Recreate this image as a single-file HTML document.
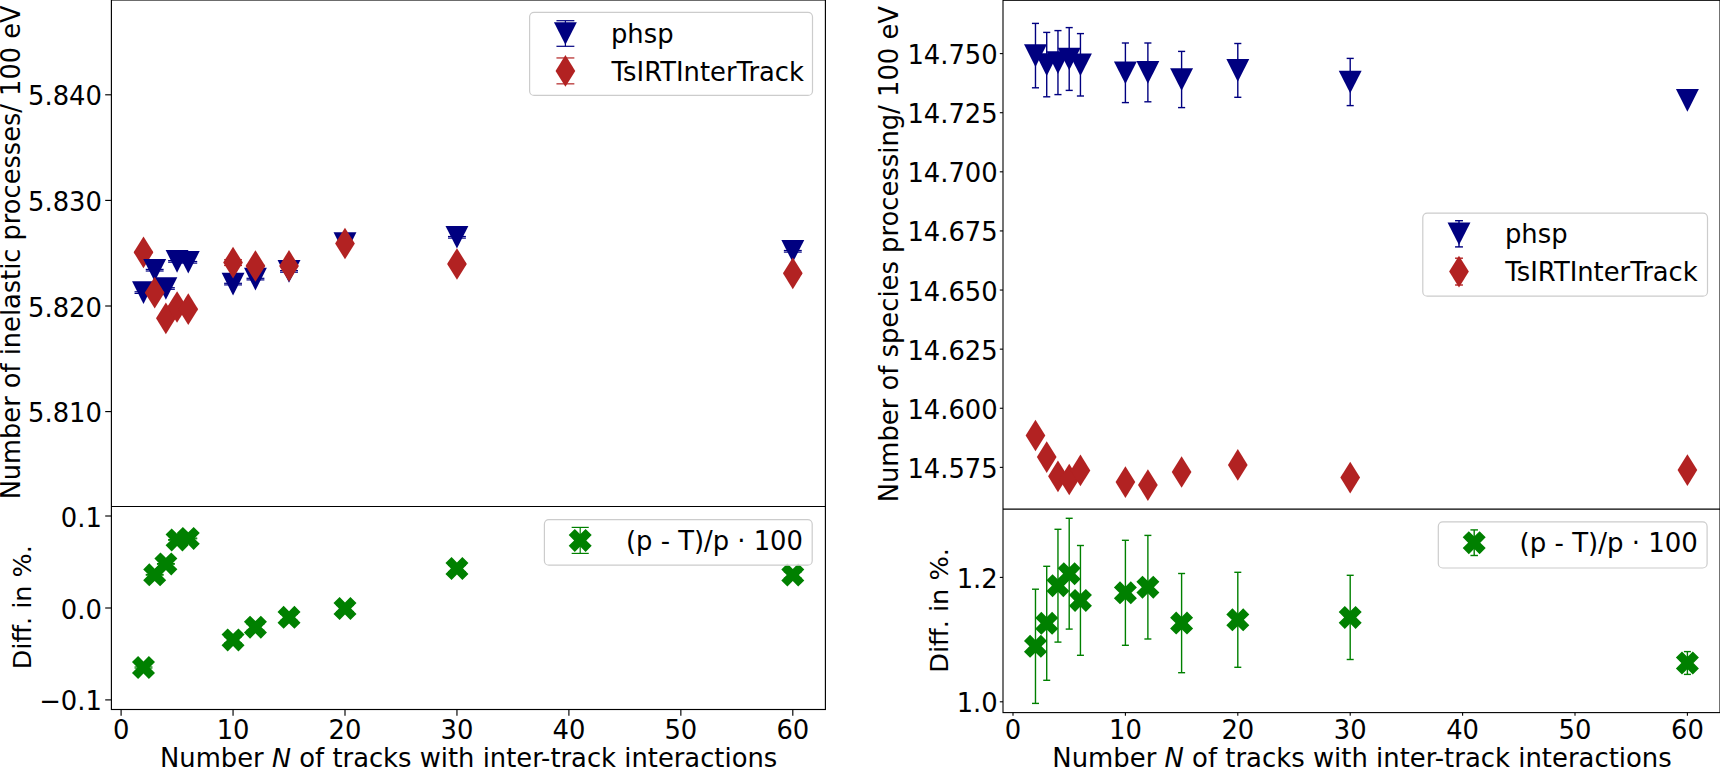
<!DOCTYPE html><html><head><meta charset="utf-8"><title>Figure</title><style>html,body{margin:0;padding:0;background:#fff;width:1720px;height:767px;overflow:hidden}svg{display:block}text{font-family:"DejaVu Sans", "Liberation Sans", sans-serif;font-size:25.8px;fill:#000}</style></head><body>
<svg width="1720" height="767" viewBox="0 0 1720 767">
<rect width="1720" height="767" fill="#fff"/>
<line x1="143.49" y1="291.8" x2="143.49" y2="293.4" stroke="#000080" stroke-width="1.2"/><line x1="134.54" y1="291.8" x2="152.44" y2="291.8" stroke="#000080" stroke-width="1.2"/><line x1="134.54" y1="293.4" x2="152.44" y2="293.4" stroke="#000080" stroke-width="1.2"/>
<polygon points="132.04,281.3 154.94,281.3 143.49,303.9" fill="#000080"/>
<line x1="143.49" y1="251.5" x2="143.49" y2="253.1" stroke="#b22222" stroke-width="1.2"/><line x1="134.54" y1="251.5" x2="152.44" y2="251.5" stroke="#b22222" stroke-width="1.2"/><line x1="134.54" y1="253.1" x2="152.44" y2="253.1" stroke="#b22222" stroke-width="1.2"/>
<polygon points="143.49,236.45 153.34,252.3 143.49,268.15 133.64,252.3" fill="#b22222"/>
<line x1="165.88" y1="287.7" x2="165.88" y2="289.3" stroke="#000080" stroke-width="1.2"/><line x1="156.93" y1="287.7" x2="174.83" y2="287.7" stroke="#000080" stroke-width="1.2"/><line x1="156.93" y1="289.3" x2="174.83" y2="289.3" stroke="#000080" stroke-width="1.2"/>
<polygon points="154.43,277.2 177.33,277.2 165.88,299.8" fill="#000080"/>
<line x1="165.88" y1="317.5" x2="165.88" y2="319.1" stroke="#b22222" stroke-width="1.2"/><line x1="156.93" y1="317.5" x2="174.83" y2="317.5" stroke="#b22222" stroke-width="1.2"/><line x1="156.93" y1="319.1" x2="174.83" y2="319.1" stroke="#b22222" stroke-width="1.2"/>
<polygon points="165.88,302.45 175.73,318.3 165.88,334.15 156.03,318.3" fill="#b22222"/>
<line x1="154.69" y1="269.4" x2="154.69" y2="271" stroke="#000080" stroke-width="1.2"/><line x1="145.74" y1="269.4" x2="163.63" y2="269.4" stroke="#000080" stroke-width="1.2"/><line x1="145.74" y1="271" x2="163.63" y2="271" stroke="#000080" stroke-width="1.2"/>
<polygon points="143.24,258.9 166.13,258.9 154.69,281.5" fill="#000080"/>
<line x1="154.69" y1="291.9" x2="154.69" y2="293.5" stroke="#b22222" stroke-width="1.2"/><line x1="145.74" y1="291.9" x2="163.63" y2="291.9" stroke="#b22222" stroke-width="1.2"/><line x1="145.74" y1="293.5" x2="163.63" y2="293.5" stroke="#b22222" stroke-width="1.2"/>
<polygon points="154.69,276.85 164.53,292.7 154.69,308.55 144.84,292.7" fill="#b22222"/>
<line x1="177.07" y1="260.6" x2="177.07" y2="262.2" stroke="#000080" stroke-width="1.2"/><line x1="168.12" y1="260.6" x2="186.02" y2="260.6" stroke="#000080" stroke-width="1.2"/><line x1="168.12" y1="262.2" x2="186.02" y2="262.2" stroke="#000080" stroke-width="1.2"/>
<polygon points="165.62,250.1 188.52,250.1 177.07,272.7" fill="#000080"/>
<line x1="177.07" y1="306.2" x2="177.07" y2="307.8" stroke="#b22222" stroke-width="1.2"/><line x1="168.12" y1="306.2" x2="186.02" y2="306.2" stroke="#b22222" stroke-width="1.2"/><line x1="168.12" y1="307.8" x2="186.02" y2="307.8" stroke="#b22222" stroke-width="1.2"/>
<polygon points="177.07,291.15 186.92,307 177.07,322.85 167.22,307" fill="#b22222"/>
<line x1="188.27" y1="261.5" x2="188.27" y2="263.1" stroke="#000080" stroke-width="1.2"/><line x1="179.32" y1="261.5" x2="197.22" y2="261.5" stroke="#000080" stroke-width="1.2"/><line x1="179.32" y1="263.1" x2="197.22" y2="263.1" stroke="#000080" stroke-width="1.2"/>
<polygon points="176.82,251 199.72,251 188.27,273.6" fill="#000080"/>
<line x1="188.27" y1="308.4" x2="188.27" y2="310" stroke="#b22222" stroke-width="1.2"/><line x1="179.32" y1="308.4" x2="197.22" y2="308.4" stroke="#b22222" stroke-width="1.2"/><line x1="179.32" y1="310" x2="197.22" y2="310" stroke="#b22222" stroke-width="1.2"/>
<polygon points="188.27,293.35 198.12,309.2 188.27,325.05 178.42,309.2" fill="#b22222"/>
<line x1="233.05" y1="283.3" x2="233.05" y2="284.9" stroke="#000080" stroke-width="1.2"/><line x1="224.1" y1="283.3" x2="242" y2="283.3" stroke="#000080" stroke-width="1.2"/><line x1="224.1" y1="284.9" x2="242" y2="284.9" stroke="#000080" stroke-width="1.2"/>
<polygon points="221.6,272.8 244.5,272.8 233.05,295.4" fill="#000080"/>
<line x1="233.05" y1="259.7" x2="233.05" y2="265.5" stroke="#b22222" stroke-width="1.2"/><line x1="224.1" y1="259.7" x2="242" y2="259.7" stroke="#b22222" stroke-width="1.2"/><line x1="224.1" y1="265.5" x2="242" y2="265.5" stroke="#b22222" stroke-width="1.2"/>
<polygon points="233.05,246.75 242.9,262.6 233.05,278.45 223.2,262.6" fill="#b22222"/>
<line x1="255.44" y1="278.3" x2="255.44" y2="279.9" stroke="#000080" stroke-width="1.2"/><line x1="246.49" y1="278.3" x2="264.39" y2="278.3" stroke="#000080" stroke-width="1.2"/><line x1="246.49" y1="279.9" x2="264.39" y2="279.9" stroke="#000080" stroke-width="1.2"/>
<polygon points="243.99,267.8 266.89,267.8 255.44,290.4" fill="#000080"/>
<line x1="255.44" y1="265.2" x2="255.44" y2="266.8" stroke="#b22222" stroke-width="1.2"/><line x1="246.49" y1="265.2" x2="264.39" y2="265.2" stroke="#b22222" stroke-width="1.2"/><line x1="246.49" y1="266.8" x2="264.39" y2="266.8" stroke="#b22222" stroke-width="1.2"/>
<polygon points="255.44,250.15 265.29,266 255.44,281.85 245.59,266" fill="#b22222"/>
<line x1="289.02" y1="270.6" x2="289.02" y2="272.2" stroke="#000080" stroke-width="1.2"/><line x1="280.07" y1="270.6" x2="297.97" y2="270.6" stroke="#000080" stroke-width="1.2"/><line x1="280.07" y1="272.2" x2="297.97" y2="272.2" stroke="#000080" stroke-width="1.2"/>
<polygon points="277.57,260.1 300.47,260.1 289.02,282.7" fill="#000080"/>
<line x1="289.02" y1="265.1" x2="289.02" y2="266.7" stroke="#b22222" stroke-width="1.2"/><line x1="280.07" y1="265.1" x2="297.97" y2="265.1" stroke="#b22222" stroke-width="1.2"/><line x1="280.07" y1="266.7" x2="297.97" y2="266.7" stroke="#b22222" stroke-width="1.2"/>
<polygon points="289.02,250.05 298.88,265.9 289.02,281.75 279.17,265.9" fill="#b22222"/>
<line x1="345" y1="242.8" x2="345" y2="244.4" stroke="#000080" stroke-width="1.2"/><line x1="336.05" y1="242.8" x2="353.95" y2="242.8" stroke="#000080" stroke-width="1.2"/><line x1="336.05" y1="244.4" x2="353.95" y2="244.4" stroke="#000080" stroke-width="1.2"/>
<polygon points="333.55,232.3 356.45,232.3 345,254.9" fill="#000080"/>
<line x1="345" y1="242.7" x2="345" y2="244.3" stroke="#b22222" stroke-width="1.2"/><line x1="336.05" y1="242.7" x2="353.95" y2="242.7" stroke="#b22222" stroke-width="1.2"/><line x1="336.05" y1="244.3" x2="353.95" y2="244.3" stroke="#b22222" stroke-width="1.2"/>
<polygon points="345,227.65 354.85,243.5 345,259.35 335.15,243.5" fill="#b22222"/>
<line x1="456.95" y1="236.5" x2="456.95" y2="238.1" stroke="#000080" stroke-width="1.2"/><line x1="448" y1="236.5" x2="465.9" y2="236.5" stroke="#000080" stroke-width="1.2"/><line x1="448" y1="238.1" x2="465.9" y2="238.1" stroke="#000080" stroke-width="1.2"/>
<polygon points="445.5,226 468.4,226 456.95,248.6" fill="#000080"/>
<line x1="456.95" y1="263.2" x2="456.95" y2="264.8" stroke="#b22222" stroke-width="1.2"/><line x1="448" y1="263.2" x2="465.9" y2="263.2" stroke="#b22222" stroke-width="1.2"/><line x1="448" y1="264.8" x2="465.9" y2="264.8" stroke="#b22222" stroke-width="1.2"/>
<polygon points="456.95,248.15 466.8,264 456.95,279.85 447.1,264" fill="#b22222"/>
<line x1="792.8" y1="250.5" x2="792.8" y2="252.1" stroke="#000080" stroke-width="1.2"/><line x1="783.85" y1="250.5" x2="801.75" y2="250.5" stroke="#000080" stroke-width="1.2"/><line x1="783.85" y1="252.1" x2="801.75" y2="252.1" stroke="#000080" stroke-width="1.2"/>
<polygon points="781.35,240 804.25,240 792.8,262.6" fill="#000080"/>
<line x1="792.8" y1="272.5" x2="792.8" y2="274.1" stroke="#b22222" stroke-width="1.2"/><line x1="783.85" y1="272.5" x2="801.75" y2="272.5" stroke="#b22222" stroke-width="1.2"/><line x1="783.85" y1="274.1" x2="801.75" y2="274.1" stroke="#b22222" stroke-width="1.2"/>
<polygon points="792.8,257.45 802.65,273.3 792.8,289.15 782.95,273.3" fill="#b22222"/>
<line x1="143.49" y1="666.9" x2="143.49" y2="668.1" stroke="#008000" stroke-width="1.1"/><line x1="134.54" y1="666.9" x2="152.44" y2="666.9" stroke="#008000" stroke-width="1.1"/><line x1="134.54" y1="668.1" x2="152.44" y2="668.1" stroke="#008000" stroke-width="1.1"/>
<polygon points="149.59,667.5 154.99,672.9 148.89,679 143.49,673.6 138.09,679 131.99,672.9 137.39,667.5 131.99,662.1 138.09,656 143.49,661.4 148.89,656 154.99,662.1" fill="#008000"/>
<line x1="154.69" y1="574.4" x2="154.69" y2="575.2" stroke="#008000" stroke-width="1.1"/><line x1="145.74" y1="574.4" x2="163.63" y2="574.4" stroke="#008000" stroke-width="1.1"/><line x1="145.74" y1="575.2" x2="163.63" y2="575.2" stroke="#008000" stroke-width="1.1"/>
<polygon points="160.78,574.8 166.19,580.2 160.09,586.3 154.69,580.9 149.28,586.3 143.19,580.2 148.59,574.8 143.19,569.4 149.28,563.3 154.69,568.7 160.09,563.3 166.19,569.4" fill="#008000"/>
<line x1="165.88" y1="563.5" x2="165.88" y2="564.3" stroke="#008000" stroke-width="1.1"/><line x1="156.93" y1="563.5" x2="174.83" y2="563.5" stroke="#008000" stroke-width="1.1"/><line x1="156.93" y1="564.3" x2="174.83" y2="564.3" stroke="#008000" stroke-width="1.1"/>
<polygon points="171.98,563.9 177.38,569.3 171.28,575.4 165.88,570 160.48,575.4 154.38,569.3 159.78,563.9 154.38,558.5 160.48,552.4 165.88,557.8 171.28,552.4 177.38,558.5" fill="#008000"/>
<line x1="177.07" y1="539.5" x2="177.07" y2="540.3" stroke="#008000" stroke-width="1.1"/><line x1="168.12" y1="539.5" x2="186.02" y2="539.5" stroke="#008000" stroke-width="1.1"/><line x1="168.12" y1="540.3" x2="186.02" y2="540.3" stroke="#008000" stroke-width="1.1"/>
<polygon points="183.17,539.9 188.57,545.3 182.47,551.4 177.07,546 171.67,551.4 165.57,545.3 170.97,539.9 165.57,534.5 171.67,528.4 177.07,533.8 182.47,528.4 188.57,534.5" fill="#008000"/>
<line x1="188.27" y1="538" x2="188.27" y2="538.8" stroke="#008000" stroke-width="1.1"/><line x1="179.32" y1="538" x2="197.22" y2="538" stroke="#008000" stroke-width="1.1"/><line x1="179.32" y1="538.8" x2="197.22" y2="538.8" stroke="#008000" stroke-width="1.1"/>
<polygon points="194.37,538.4 199.77,543.8 193.67,549.9 188.27,544.5 182.87,549.9 176.77,543.8 182.17,538.4 176.77,533 182.87,526.9 188.27,532.3 193.67,526.9 199.77,533" fill="#008000"/>
<line x1="233.05" y1="636.9" x2="233.05" y2="642.9" stroke="#008000" stroke-width="1.1"/><line x1="224.1" y1="636.9" x2="242" y2="636.9" stroke="#008000" stroke-width="1.1"/><line x1="224.1" y1="642.9" x2="242" y2="642.9" stroke="#008000" stroke-width="1.1"/>
<polygon points="239.15,639.9 244.55,645.3 238.45,651.4 233.05,646 227.65,651.4 221.55,645.3 226.95,639.9 221.55,634.5 227.65,628.4 233.05,633.8 238.45,628.4 244.55,634.5" fill="#008000"/>
<line x1="255.44" y1="624.2" x2="255.44" y2="630.2" stroke="#008000" stroke-width="1.1"/><line x1="246.49" y1="624.2" x2="264.39" y2="624.2" stroke="#008000" stroke-width="1.1"/><line x1="246.49" y1="630.2" x2="264.39" y2="630.2" stroke="#008000" stroke-width="1.1"/>
<polygon points="261.54,627.2 266.94,632.6 260.84,638.7 255.44,633.3 250.04,638.7 243.94,632.6 249.34,627.2 243.94,621.8 250.04,615.7 255.44,621.1 260.84,615.7 266.94,621.8" fill="#008000"/>
<line x1="289.02" y1="614.3" x2="289.02" y2="620.3" stroke="#008000" stroke-width="1.1"/><line x1="280.07" y1="614.3" x2="297.97" y2="614.3" stroke="#008000" stroke-width="1.1"/><line x1="280.07" y1="620.3" x2="297.97" y2="620.3" stroke="#008000" stroke-width="1.1"/>
<polygon points="295.12,617.3 300.52,622.7 294.42,628.8 289.02,623.4 283.62,628.8 277.52,622.7 282.92,617.3 277.52,611.9 283.62,605.8 289.02,611.2 294.42,605.8 300.52,611.9" fill="#008000"/>
<line x1="345" y1="605.5" x2="345" y2="611.5" stroke="#008000" stroke-width="1.1"/><line x1="336.05" y1="605.5" x2="353.95" y2="605.5" stroke="#008000" stroke-width="1.1"/><line x1="336.05" y1="611.5" x2="353.95" y2="611.5" stroke="#008000" stroke-width="1.1"/>
<polygon points="351.1,608.5 356.5,613.9 350.4,620 345,614.6 339.6,620 333.5,613.9 338.9,608.5 333.5,603.1 339.6,597 345,602.4 350.4,597 356.5,603.1" fill="#008000"/>
<line x1="456.95" y1="565.5" x2="456.95" y2="571.5" stroke="#008000" stroke-width="1.1"/><line x1="448" y1="565.5" x2="465.9" y2="565.5" stroke="#008000" stroke-width="1.1"/><line x1="448" y1="571.5" x2="465.9" y2="571.5" stroke="#008000" stroke-width="1.1"/>
<polygon points="463.05,568.5 468.45,573.9 462.35,580 456.95,574.6 451.55,580 445.45,573.9 450.85,568.5 445.45,563.1 451.55,557 456.95,562.4 462.35,557 468.45,563.1" fill="#008000"/>
<line x1="792.8" y1="572" x2="792.8" y2="578" stroke="#008000" stroke-width="1.1"/><line x1="783.85" y1="572" x2="801.75" y2="572" stroke="#008000" stroke-width="1.1"/><line x1="783.85" y1="578" x2="801.75" y2="578" stroke="#008000" stroke-width="1.1"/>
<polygon points="798.9,575 804.3,580.4 798.2,586.5 792.8,581.1 787.4,586.5 781.3,580.4 786.7,575 781.3,569.6 787.4,563.5 792.8,568.9 798.2,563.5 804.3,569.6" fill="#008000"/>
<line x1="1035.48" y1="23.4" x2="1035.48" y2="87.8" stroke="#000080" stroke-width="1.4"/><line x1="1031.93" y1="23.4" x2="1039.03" y2="23.4" stroke="#000080" stroke-width="1.4"/><line x1="1031.93" y1="87.8" x2="1039.03" y2="87.8" stroke="#000080" stroke-width="1.4"/>
<polygon points="1024.03,44.3 1046.93,44.3 1035.48,66.9" fill="#000080"/>
<line x1="1046.72" y1="32.4" x2="1046.72" y2="96.8" stroke="#000080" stroke-width="1.4"/><line x1="1043.17" y1="32.4" x2="1050.27" y2="32.4" stroke="#000080" stroke-width="1.4"/><line x1="1043.17" y1="96.8" x2="1050.27" y2="96.8" stroke="#000080" stroke-width="1.4"/>
<polygon points="1035.27,53.3 1058.17,53.3 1046.72,75.9" fill="#000080"/>
<line x1="1057.96" y1="30.6" x2="1057.96" y2="94.6" stroke="#000080" stroke-width="1.4"/><line x1="1054.41" y1="30.6" x2="1061.51" y2="30.6" stroke="#000080" stroke-width="1.4"/><line x1="1054.41" y1="94.6" x2="1061.51" y2="94.6" stroke="#000080" stroke-width="1.4"/>
<polygon points="1046.51,51.3 1069.41,51.3 1057.96,73.9" fill="#000080"/>
<line x1="1069.2" y1="27.6" x2="1069.2" y2="90.4" stroke="#000080" stroke-width="1.4"/><line x1="1065.65" y1="27.6" x2="1072.75" y2="27.6" stroke="#000080" stroke-width="1.4"/><line x1="1065.65" y1="90.4" x2="1072.75" y2="90.4" stroke="#000080" stroke-width="1.4"/>
<polygon points="1057.75,47.7 1080.65,47.7 1069.2,70.3" fill="#000080"/>
<line x1="1080.44" y1="33.6" x2="1080.44" y2="96" stroke="#000080" stroke-width="1.4"/><line x1="1076.89" y1="33.6" x2="1083.99" y2="33.6" stroke="#000080" stroke-width="1.4"/><line x1="1076.89" y1="96" x2="1083.99" y2="96" stroke="#000080" stroke-width="1.4"/>
<polygon points="1068.99,53.5 1091.89,53.5 1080.44,76.1" fill="#000080"/>
<line x1="1125.4" y1="43" x2="1125.4" y2="102.6" stroke="#000080" stroke-width="1.4"/><line x1="1121.85" y1="43" x2="1128.95" y2="43" stroke="#000080" stroke-width="1.4"/><line x1="1121.85" y1="102.6" x2="1128.95" y2="102.6" stroke="#000080" stroke-width="1.4"/>
<polygon points="1113.95,61.5 1136.85,61.5 1125.4,84.1" fill="#000080"/>
<line x1="1147.88" y1="43" x2="1147.88" y2="101.8" stroke="#000080" stroke-width="1.4"/><line x1="1144.33" y1="43" x2="1151.43" y2="43" stroke="#000080" stroke-width="1.4"/><line x1="1144.33" y1="101.8" x2="1151.43" y2="101.8" stroke="#000080" stroke-width="1.4"/>
<polygon points="1136.43,61.1 1159.33,61.1 1147.88,83.7" fill="#000080"/>
<line x1="1181.6" y1="51.4" x2="1181.6" y2="107.6" stroke="#000080" stroke-width="1.4"/><line x1="1178.05" y1="51.4" x2="1185.15" y2="51.4" stroke="#000080" stroke-width="1.4"/><line x1="1178.05" y1="107.6" x2="1185.15" y2="107.6" stroke="#000080" stroke-width="1.4"/>
<polygon points="1170.15,68.2 1193.05,68.2 1181.6,90.8" fill="#000080"/>
<line x1="1237.8" y1="43.5" x2="1237.8" y2="97.3" stroke="#000080" stroke-width="1.4"/><line x1="1234.25" y1="43.5" x2="1241.35" y2="43.5" stroke="#000080" stroke-width="1.4"/><line x1="1234.25" y1="97.3" x2="1241.35" y2="97.3" stroke="#000080" stroke-width="1.4"/>
<polygon points="1226.35,59.1 1249.25,59.1 1237.8,81.7" fill="#000080"/>
<line x1="1350.2" y1="58.4" x2="1350.2" y2="105.6" stroke="#000080" stroke-width="1.4"/><line x1="1346.65" y1="58.4" x2="1353.75" y2="58.4" stroke="#000080" stroke-width="1.4"/><line x1="1346.65" y1="105.6" x2="1353.75" y2="105.6" stroke="#000080" stroke-width="1.4"/>
<polygon points="1338.75,70.7 1361.65,70.7 1350.2,93.3" fill="#000080"/>
<polygon points="1675.95,89.1 1698.85,89.1 1687.4,111.7" fill="#000080"/>
<polygon points="1035.48,419.65 1045.33,435.5 1035.48,451.35 1025.63,435.5" fill="#b22222"/>
<polygon points="1046.72,441.25 1056.57,457.1 1046.72,472.95 1036.87,457.1" fill="#b22222"/>
<polygon points="1057.96,460.45 1067.81,476.3 1057.96,492.15 1048.11,476.3" fill="#b22222"/>
<polygon points="1069.2,463.65 1079.05,479.5 1069.2,495.35 1059.35,479.5" fill="#b22222"/>
<polygon points="1080.44,454.55 1090.29,470.4 1080.44,486.25 1070.59,470.4" fill="#b22222"/>
<polygon points="1125.4,466.25 1135.25,482.1 1125.4,497.95 1115.55,482.1" fill="#b22222"/>
<polygon points="1147.88,469.25 1157.73,485.1 1147.88,500.95 1138.03,485.1" fill="#b22222"/>
<polygon points="1181.6,456.15 1191.45,472 1181.6,487.85 1171.75,472" fill="#b22222"/>
<polygon points="1237.8,449.05 1247.65,464.9 1237.8,480.75 1227.95,464.9" fill="#b22222"/>
<polygon points="1350.2,461.75 1360.05,477.6 1350.2,493.45 1340.35,477.6" fill="#b22222"/>
<polygon points="1687.4,454.25 1697.25,470.1 1687.4,485.95 1677.55,470.1" fill="#b22222"/>
<line x1="1035.48" y1="589.2" x2="1035.48" y2="703.4" stroke="#008000" stroke-width="1.4"/><line x1="1031.98" y1="589.2" x2="1038.98" y2="589.2" stroke="#008000" stroke-width="1.4"/><line x1="1031.98" y1="703.4" x2="1038.98" y2="703.4" stroke="#008000" stroke-width="1.4"/>
<polygon points="1041.58,646.3 1046.98,651.7 1040.88,657.8 1035.48,652.4 1030.08,657.8 1023.98,651.7 1029.38,646.3 1023.98,640.9 1030.08,634.8 1035.48,640.2 1040.88,634.8 1046.98,640.9" fill="#008000"/>
<line x1="1046.72" y1="566.3" x2="1046.72" y2="680.3" stroke="#008000" stroke-width="1.4"/><line x1="1043.22" y1="566.3" x2="1050.22" y2="566.3" stroke="#008000" stroke-width="1.4"/><line x1="1043.22" y1="680.3" x2="1050.22" y2="680.3" stroke="#008000" stroke-width="1.4"/>
<polygon points="1052.82,623.3 1058.22,628.7 1052.12,634.8 1046.72,629.4 1041.32,634.8 1035.22,628.7 1040.62,623.3 1035.22,617.9 1041.32,611.8 1046.72,617.2 1052.12,611.8 1058.22,617.9" fill="#008000"/>
<line x1="1057.96" y1="529.3" x2="1057.96" y2="642.1" stroke="#008000" stroke-width="1.4"/><line x1="1054.46" y1="529.3" x2="1061.46" y2="529.3" stroke="#008000" stroke-width="1.4"/><line x1="1054.46" y1="642.1" x2="1061.46" y2="642.1" stroke="#008000" stroke-width="1.4"/>
<polygon points="1064.06,585.7 1069.46,591.1 1063.36,597.2 1057.96,591.8 1052.56,597.2 1046.46,591.1 1051.86,585.7 1046.46,580.3 1052.56,574.2 1057.96,579.6 1063.36,574.2 1069.46,580.3" fill="#008000"/>
<line x1="1069.2" y1="518.3" x2="1069.2" y2="629.1" stroke="#008000" stroke-width="1.4"/><line x1="1065.7" y1="518.3" x2="1072.7" y2="518.3" stroke="#008000" stroke-width="1.4"/><line x1="1065.7" y1="629.1" x2="1072.7" y2="629.1" stroke="#008000" stroke-width="1.4"/>
<polygon points="1075.3,573.7 1080.7,579.1 1074.6,585.2 1069.2,579.8 1063.8,585.2 1057.7,579.1 1063.1,573.7 1057.7,568.3 1063.8,562.2 1069.2,567.6 1074.6,562.2 1080.7,568.3" fill="#008000"/>
<line x1="1080.44" y1="545.5" x2="1080.44" y2="655.3" stroke="#008000" stroke-width="1.4"/><line x1="1076.94" y1="545.5" x2="1083.94" y2="545.5" stroke="#008000" stroke-width="1.4"/><line x1="1076.94" y1="655.3" x2="1083.94" y2="655.3" stroke="#008000" stroke-width="1.4"/>
<polygon points="1086.54,600.4 1091.94,605.8 1085.84,611.9 1080.44,606.5 1075.04,611.9 1068.94,605.8 1074.34,600.4 1068.94,595 1075.04,588.9 1080.44,594.3 1085.84,588.9 1091.94,595" fill="#008000"/>
<line x1="1125.4" y1="540.3" x2="1125.4" y2="645.3" stroke="#008000" stroke-width="1.4"/><line x1="1121.9" y1="540.3" x2="1128.9" y2="540.3" stroke="#008000" stroke-width="1.4"/><line x1="1121.9" y1="645.3" x2="1128.9" y2="645.3" stroke="#008000" stroke-width="1.4"/>
<polygon points="1131.5,592.8 1136.9,598.2 1130.8,604.3 1125.4,598.9 1120,604.3 1113.9,598.2 1119.3,592.8 1113.9,587.4 1120,581.3 1125.4,586.7 1130.8,581.3 1136.9,587.4" fill="#008000"/>
<line x1="1147.88" y1="535.4" x2="1147.88" y2="639" stroke="#008000" stroke-width="1.4"/><line x1="1144.38" y1="535.4" x2="1151.38" y2="535.4" stroke="#008000" stroke-width="1.4"/><line x1="1144.38" y1="639" x2="1151.38" y2="639" stroke="#008000" stroke-width="1.4"/>
<polygon points="1153.98,587.2 1159.38,592.6 1153.28,598.7 1147.88,593.3 1142.48,598.7 1136.38,592.6 1141.78,587.2 1136.38,581.8 1142.48,575.7 1147.88,581.1 1153.28,575.7 1159.38,581.8" fill="#008000"/>
<line x1="1181.6" y1="573.5" x2="1181.6" y2="672.7" stroke="#008000" stroke-width="1.4"/><line x1="1178.1" y1="573.5" x2="1185.1" y2="573.5" stroke="#008000" stroke-width="1.4"/><line x1="1178.1" y1="672.7" x2="1185.1" y2="672.7" stroke="#008000" stroke-width="1.4"/>
<polygon points="1187.7,623.1 1193.1,628.5 1187,634.6 1181.6,629.2 1176.2,634.6 1170.1,628.5 1175.5,623.1 1170.1,617.7 1176.2,611.6 1181.6,617 1187,611.6 1193.1,617.7" fill="#008000"/>
<line x1="1237.8" y1="572.3" x2="1237.8" y2="667.3" stroke="#008000" stroke-width="1.4"/><line x1="1234.3" y1="572.3" x2="1241.3" y2="572.3" stroke="#008000" stroke-width="1.4"/><line x1="1234.3" y1="667.3" x2="1241.3" y2="667.3" stroke="#008000" stroke-width="1.4"/>
<polygon points="1243.9,619.8 1249.3,625.2 1243.2,631.3 1237.8,625.9 1232.4,631.3 1226.3,625.2 1231.7,619.8 1226.3,614.4 1232.4,608.3 1237.8,613.7 1243.2,608.3 1249.3,614.4" fill="#008000"/>
<line x1="1350.2" y1="575.3" x2="1350.2" y2="659.5" stroke="#008000" stroke-width="1.4"/><line x1="1346.7" y1="575.3" x2="1353.7" y2="575.3" stroke="#008000" stroke-width="1.4"/><line x1="1346.7" y1="659.5" x2="1353.7" y2="659.5" stroke="#008000" stroke-width="1.4"/>
<polygon points="1356.3,617.4 1361.7,622.8 1355.6,628.9 1350.2,623.5 1344.8,628.9 1338.7,622.8 1344.1,617.4 1338.7,612 1344.8,605.9 1350.2,611.3 1355.6,605.9 1361.7,612" fill="#008000"/>
<line x1="1687.4" y1="651.6" x2="1687.4" y2="674.4" stroke="#008000" stroke-width="1.4"/><line x1="1683.9" y1="651.6" x2="1690.9" y2="651.6" stroke="#008000" stroke-width="1.4"/><line x1="1683.9" y1="674.4" x2="1690.9" y2="674.4" stroke="#008000" stroke-width="1.4"/>
<polygon points="1693.5,663 1698.9,668.4 1692.8,674.5 1687.4,669.1 1682,674.5 1675.9,668.4 1681.3,663 1675.9,657.6 1682,651.5 1687.4,656.9 1692.8,651.5 1698.9,657.6" fill="#008000"/>
<rect x="529.6" y="12.3" width="282.9" height="83.1" rx="4.5" ry="4.5" fill="#fff" fill-opacity="0.8" stroke="#cccccc" stroke-width="1.2"/>
<line x1="565.4" y1="20.7" x2="565.4" y2="46.3" stroke="#000080" stroke-width="1.2"/><line x1="556.45" y1="20.7" x2="574.35" y2="20.7" stroke="#000080" stroke-width="1.2"/><line x1="556.45" y1="46.3" x2="574.35" y2="46.3" stroke="#000080" stroke-width="1.2"/>
<polygon points="553.95,22.2 576.85,22.2 565.4,44.8" fill="#000080"/>
<line x1="565.4" y1="57.95" x2="565.4" y2="83.85" stroke="#b22222" stroke-width="1.2"/><line x1="556.45" y1="57.95" x2="574.35" y2="57.95" stroke="#b22222" stroke-width="1.2"/><line x1="556.45" y1="83.85" x2="574.35" y2="83.85" stroke="#b22222" stroke-width="1.2"/>
<polygon points="565.4,55.05 575.25,70.9 565.4,86.75 555.55,70.9" fill="#b22222"/>
<text x="611" y="42.8" text-anchor="start">phsp</text>
<text x="611.6" y="81" text-anchor="start">TsIRTInterTrack</text>
<rect x="544.4" y="519.6" width="267.8" height="45.6" rx="4.5" ry="4.5" fill="#fff" fill-opacity="0.8" stroke="#cccccc" stroke-width="1.2"/>
<line x1="580.2" y1="527.4" x2="580.2" y2="553.4" stroke="#008000" stroke-width="1.2"/><line x1="571.65" y1="527.4" x2="588.75" y2="527.4" stroke="#008000" stroke-width="1.2"/><line x1="571.65" y1="553.4" x2="588.75" y2="553.4" stroke="#008000" stroke-width="1.2"/>
<polygon points="586.3,540.4 591.7,545.8 585.6,551.9 580.2,546.5 574.8,551.9 568.7,545.8 574.1,540.4 568.7,535 574.8,528.9 580.2,534.3 585.6,528.9 591.7,535" fill="#008000"/>
<text x="626" y="550" text-anchor="start">(p - T)/p · 100</text>
<rect x="1422.8" y="213.2" width="284.7" height="83" rx="4.5" ry="4.5" fill="#fff" fill-opacity="0.8" stroke="#cccccc" stroke-width="1.2"/>
<line x1="1459" y1="220.7" x2="1459" y2="246.9" stroke="#000080" stroke-width="1.4"/><line x1="1455.05" y1="220.7" x2="1462.95" y2="220.7" stroke="#000080" stroke-width="1.4"/><line x1="1455.05" y1="246.9" x2="1462.95" y2="246.9" stroke="#000080" stroke-width="1.4"/>
<polygon points="1447.55,222.5 1470.45,222.5 1459,245.1" fill="#000080"/>
<line x1="1459" y1="258.2" x2="1459" y2="285" stroke="#b22222" stroke-width="1.4"/><line x1="1455.05" y1="258.2" x2="1462.95" y2="258.2" stroke="#b22222" stroke-width="1.4"/><line x1="1455.05" y1="285" x2="1462.95" y2="285" stroke="#b22222" stroke-width="1.4"/>
<polygon points="1459,255.75 1468.85,271.6 1459,287.45 1449.15,271.6" fill="#b22222"/>
<text x="1505" y="242.6" text-anchor="start">phsp</text>
<text x="1505.3" y="281" text-anchor="start">TsIRTInterTrack</text>
<rect x="1438.3" y="521.9" width="268.8" height="46.1" rx="4.5" ry="4.5" fill="#fff" fill-opacity="0.8" stroke="#cccccc" stroke-width="1.2"/>
<line x1="1474.2" y1="529.9" x2="1474.2" y2="555.5" stroke="#008000" stroke-width="1.4"/><line x1="1470.45" y1="529.9" x2="1477.95" y2="529.9" stroke="#008000" stroke-width="1.4"/><line x1="1470.45" y1="555.5" x2="1477.95" y2="555.5" stroke="#008000" stroke-width="1.4"/>
<polygon points="1480.3,542.7 1485.7,548.1 1479.6,554.2 1474.2,548.8 1468.8,554.2 1462.7,548.1 1468.1,542.7 1462.7,537.3 1468.8,531.2 1474.2,536.6 1479.6,531.2 1485.7,537.3" fill="#008000"/>
<text x="1519.6" y="551.8" text-anchor="start" style="font-size:26px">(p - T)/p · 100</text>
<rect x="111.4" y="0" width="714" height="709.5" fill="none" stroke="#000" stroke-width="1.15"/><line x1="111.4" y1="506.5" x2="825.4" y2="506.5" stroke="#000" stroke-width="1.15"/>
<rect x="1003" y="0.3" width="717" height="712.3" fill="none" stroke="#000" stroke-width="1.1"/><line x1="1003" y1="509.1" x2="1720" y2="509.1" stroke="#000" stroke-width="1.1"/>
<line x1="105.2" y1="94.8" x2="111.4" y2="94.8" stroke="#000" stroke-width="1.15"/><text x="101.9" y="105.3" text-anchor="end">5.840</text><line x1="105.2" y1="200.4" x2="111.4" y2="200.4" stroke="#000" stroke-width="1.15"/><text x="101.9" y="210.9" text-anchor="end">5.830</text><line x1="105.2" y1="306" x2="111.4" y2="306" stroke="#000" stroke-width="1.15"/><text x="101.9" y="316.5" text-anchor="end">5.820</text><line x1="105.2" y1="411.6" x2="111.4" y2="411.6" stroke="#000" stroke-width="1.15"/><text x="101.9" y="422.1" text-anchor="end">5.810</text>
<line x1="105.2" y1="516" x2="111.4" y2="516" stroke="#000" stroke-width="1.15"/><text x="101.9" y="526.5" text-anchor="end">0.1</text><line x1="105.2" y1="608" x2="111.4" y2="608" stroke="#000" stroke-width="1.15"/><text x="101.9" y="618.5" text-anchor="end">0.0</text><line x1="105.2" y1="699.9" x2="111.4" y2="699.9" stroke="#000" stroke-width="1.15"/><text x="101.9" y="710.4" text-anchor="end">−0.1</text>
<line x1="121.1" y1="709.5" x2="121.1" y2="715.7" stroke="#000" stroke-width="1.15"/><text x="121.1" y="739.2" text-anchor="middle">0</text><line x1="233.05" y1="709.5" x2="233.05" y2="715.7" stroke="#000" stroke-width="1.15"/><text x="233.05" y="739.2" text-anchor="middle">10</text><line x1="345" y1="709.5" x2="345" y2="715.7" stroke="#000" stroke-width="1.15"/><text x="345" y="739.2" text-anchor="middle">20</text><line x1="456.95" y1="709.5" x2="456.95" y2="715.7" stroke="#000" stroke-width="1.15"/><text x="456.95" y="739.2" text-anchor="middle">30</text><line x1="568.9" y1="709.5" x2="568.9" y2="715.7" stroke="#000" stroke-width="1.15"/><text x="568.9" y="739.2" text-anchor="middle">40</text><line x1="680.85" y1="709.5" x2="680.85" y2="715.7" stroke="#000" stroke-width="1.15"/><text x="680.85" y="739.2" text-anchor="middle">50</text><line x1="792.8" y1="709.5" x2="792.8" y2="715.7" stroke="#000" stroke-width="1.15"/><text x="792.8" y="739.2" text-anchor="middle">60</text>
<line x1="999.8" y1="53.6" x2="1003" y2="53.6" stroke="#000" stroke-width="1.1"/><text x="997.7" y="64.1" text-anchor="end">14.750</text><line x1="999.8" y1="112.71" x2="1003" y2="112.71" stroke="#000" stroke-width="1.1"/><text x="997.7" y="123.21" text-anchor="end">14.725</text><line x1="999.8" y1="171.82" x2="1003" y2="171.82" stroke="#000" stroke-width="1.1"/><text x="997.7" y="182.32" text-anchor="end">14.700</text><line x1="999.8" y1="230.93" x2="1003" y2="230.93" stroke="#000" stroke-width="1.1"/><text x="997.7" y="241.43" text-anchor="end">14.675</text><line x1="999.8" y1="290.04" x2="1003" y2="290.04" stroke="#000" stroke-width="1.1"/><text x="997.7" y="300.54" text-anchor="end">14.650</text><line x1="999.8" y1="349.15" x2="1003" y2="349.15" stroke="#000" stroke-width="1.1"/><text x="997.7" y="359.65" text-anchor="end">14.625</text><line x1="999.8" y1="408.26" x2="1003" y2="408.26" stroke="#000" stroke-width="1.1"/><text x="997.7" y="418.76" text-anchor="end">14.600</text><line x1="999.8" y1="467.37" x2="1003" y2="467.37" stroke="#000" stroke-width="1.1"/><text x="997.7" y="477.87" text-anchor="end">14.575</text>
<line x1="999.8" y1="577.4" x2="1003" y2="577.4" stroke="#000" stroke-width="1.1"/><text x="997.7" y="587.9" text-anchor="end">1.2</text><line x1="999.8" y1="701.8" x2="1003" y2="701.8" stroke="#000" stroke-width="1.1"/><text x="997.7" y="712.3" text-anchor="end">1.0</text>
<line x1="1013" y1="712.6" x2="1013" y2="715.8" stroke="#000" stroke-width="1.1"/><text x="1013" y="739.2" text-anchor="middle">0</text><line x1="1125.4" y1="712.6" x2="1125.4" y2="715.8" stroke="#000" stroke-width="1.1"/><text x="1125.4" y="739.2" text-anchor="middle">10</text><line x1="1237.8" y1="712.6" x2="1237.8" y2="715.8" stroke="#000" stroke-width="1.1"/><text x="1237.8" y="739.2" text-anchor="middle">20</text><line x1="1350.2" y1="712.6" x2="1350.2" y2="715.8" stroke="#000" stroke-width="1.1"/><text x="1350.2" y="739.2" text-anchor="middle">30</text><line x1="1462.6" y1="712.6" x2="1462.6" y2="715.8" stroke="#000" stroke-width="1.1"/><text x="1462.6" y="739.2" text-anchor="middle">40</text><line x1="1575" y1="712.6" x2="1575" y2="715.8" stroke="#000" stroke-width="1.1"/><text x="1575" y="739.2" text-anchor="middle">50</text><line x1="1687.4" y1="712.6" x2="1687.4" y2="715.8" stroke="#000" stroke-width="1.1"/><text x="1687.4" y="739.2" text-anchor="middle">60</text>
<text x="468.6" y="767.2" text-anchor="middle">Number <tspan font-style="oblique" dy="0.6">N</tspan><tspan dy="-0.6"> of tracks with inter-track interactions</tspan></text>
<text x="1362" y="766.8" text-anchor="middle" style="font-size:25.9px">Number <tspan font-style="oblique" dy="0.6">N</tspan><tspan dy="-0.6"> of tracks with inter-track interactions</tspan></text>
<text transform="translate(19.8,252.4) rotate(-90)" text-anchor="middle" style="font-size:25.67px">Number of inelastic processes/ 100 eV</text>
<text transform="translate(30.7,607.2) rotate(-90)" text-anchor="middle" style="font-size:25.5px">Diff. in %.</text>
<text transform="translate(898.1,254.2) rotate(-90)" text-anchor="middle">Number of species processing/ 100 eV</text>
<text transform="translate(947.8,610.4) rotate(-90)" text-anchor="middle" style="font-size:25.6px">Diff. in %.</text>
</svg></body></html>
